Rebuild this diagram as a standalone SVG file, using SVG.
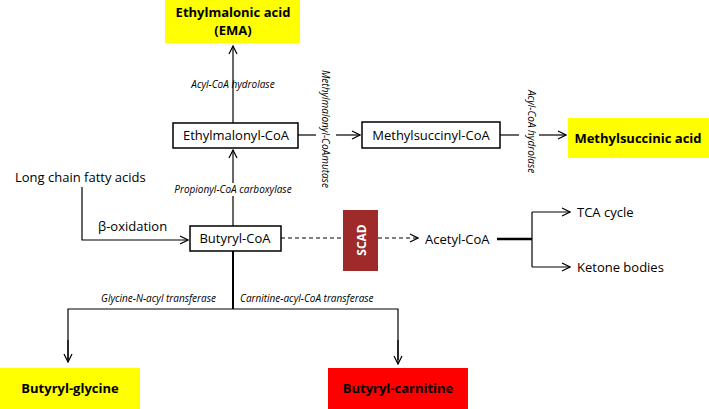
<svg xmlns="http://www.w3.org/2000/svg" width="709" height="409" viewBox="0 0 709 409">
<defs>
<marker id="a" markerWidth="10" markerHeight="10" refX="9" refY="5" orient="auto" markerUnits="userSpaceOnUse"><path d="M1,1 L9,5 L1,9" fill="none" stroke="#000" stroke-width="1.2"/></marker>
</defs>
<style>
text{font-family:"Open Sans","Liberation Sans",sans-serif;fill:#000}
.n{font-size:13px}
.b{font-size:13px;font-weight:bold}
.i{font-size:10px;font-style:italic}
.box{fill:#fff;stroke:#000;stroke-width:1.5}
.ln{fill:none;stroke:#000;stroke-width:1.2}
</style>
<rect width="709" height="409" fill="#fff"/>
<g id="ema"><rect x="165" y="0" width="135" height="43" fill="#ffff00"/><text class="b" x="233" y="17" text-anchor="middle">Ethylmalonic acid</text><text class="b" x="233" y="35" text-anchor="middle">(EMA)</text></g>
<g id="ethylmalonyl"><rect class="box" x="173" y="123" width="125" height="25"/><text class="n" x="236" y="140" text-anchor="middle">Ethylmalonyl-CoA</text></g>
<g id="methylsuccinyl"><rect class="box" x="362" y="122" width="138" height="26"/><text class="n" x="431" y="140" text-anchor="middle">Methylsuccinyl-CoA</text></g>
<g id="msa"><rect x="568" y="118" width="141" height="40" fill="#ffff00"/><text class="b" x="638" y="143" text-anchor="middle">Methylsuccinic acid</text></g>
<g id="lcfa"><text class="n" x="15" y="182">Long chain fatty acids</text></g>
<g id="butyryl"><rect class="box" x="190" y="226" width="91" height="25"/><text class="n" x="235" y="243" text-anchor="middle">Butyryl-CoA</text></g>
<g id="scad"><rect x="343" y="210" width="35" height="61" fill="#9e2a2a"/><text x="366" y="240" transform="rotate(-90 366 240)" text-anchor="middle" font-size="12" font-weight="bold" style="fill:#fff">SCAD</text></g>
<g id="acetyl"><text class="n" x="425" y="244">Acetyl-CoA</text></g>
<g id="tca"><text class="n" x="577" y="217">TCA cycle</text></g>
<g id="ketone"><text class="n" x="577" y="272">Ketone bodies</text></g>
<g id="bglycine"><rect x="0" y="368" width="140" height="41" fill="#ffff00"/><text class="b" x="70" y="393" text-anchor="middle">Butyryl-glycine</text></g>
<g id="bcarnitine"><rect x="328" y="368" width="140" height="41" fill="#ff0000"/><text class="b" x="398" y="393" text-anchor="middle">Butyryl-carnitine</text></g>
<g id="connectors">
<line class="ln" x1="233" y1="123" x2="233" y2="46" marker-end="url(#a)"/>
<text class="i" x="233" y="88" text-anchor="middle">Acyl-CoA hydrolase</text>
<line class="ln" x1="298" y1="135" x2="316" y2="135"/>
<line class="ln" x1="336" y1="135" x2="360" y2="135" marker-end="url(#a)"/>
<text class="i" x="322" y="70" transform="rotate(90 322 70)">Methylmalonyl-CoAmutase</text>
<line class="ln" x1="500" y1="135" x2="519" y2="135"/>
<line class="ln" x1="539" y1="135" x2="566" y2="135" marker-end="url(#a)"/>
<text class="i" x="528" y="90" transform="rotate(90 528 90)">Acyl-CoA hydrolase</text>
<polyline class="ln" points="82,187 82,240 188,240" marker-end="url(#a)"/>
<text class="n" x="98" y="231">β-oxidation</text>
<line class="ln" x1="233" y1="226" x2="233" y2="150" marker-end="url(#a)"/>
<rect x="165" y="183" width="134" height="13" fill="#fff"/>
<text class="i" x="233" y="193" text-anchor="middle">Propionyl-CoA carboxylase</text>
<line class="ln" x1="281" y1="238" x2="343" y2="238" stroke-dasharray="4,3"/>
<line class="ln" x1="378" y1="238" x2="418" y2="238" stroke-dasharray="4,3" marker-end="url(#a)"/>
<line x1="497" y1="239" x2="532" y2="239" stroke="#000" stroke-width="2.5"/>
<line class="ln" x1="532" y1="212" x2="532" y2="267"/>
<line class="ln" x1="532" y1="212" x2="570" y2="212" marker-end="url(#a)"/>
<line class="ln" x1="532" y1="267" x2="570" y2="267" marker-end="url(#a)"/>
<line x1="233" y1="251" x2="233" y2="309" stroke="#000" stroke-width="2"/>
<polyline class="ln" points="68,360 68,309 398,309 398,360"/>
<line class="ln" x1="68" y1="340" x2="68" y2="362" marker-end="url(#a)"/>
<line class="ln" x1="398" y1="340" x2="398" y2="364" marker-end="url(#a)"/>
<text class="i" x="216" y="302" text-anchor="end">Glycine-N-acyl transferase</text>
<text class="i" x="240" y="302">Carnitine-acyl-CoA transferase</text>
</g>
</svg>
